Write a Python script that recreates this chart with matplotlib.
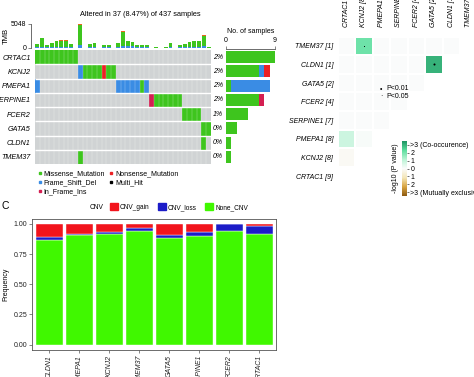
import numpy as np
import matplotlib
matplotlib.use("Agg")
import matplotlib.pyplot as plt
import matplotlib.patches as mpatches
from matplotlib.lines import Line2D
from matplotlib.colors import ListedColormap, LinearSegmentedColormap, Normalize
from matplotlib.cm import ScalarMappable

plt.rcParams.update({
    "font.family": "Liberation Sans",
    "font.size": 5,
    "axes.linewidth": 0.6,
})

W, H = 474, 377

# ── Panel A data: oncoplot ─────────────────────────────────────────────────────
genes = ["CRTAC1", "KCNJ2", "PMEPA1", "SERPINE1", "FCER2", "GATA5", "CLDN1", "TMEM37"]
n_samples_total = 437
n_altered = 37
# one char per altered sample: M missense, F frame shift del, N nonsense, I in-frame ins
onco_calls = [
    "MMMMMMMMM." ".........." ".........." ".......",   # CRTAC1
    ".........F" "MMMMNMM..." ".........." ".......",   # KCNJ2
    "F........." ".......FFF" "FFMF......" ".......",   # PMEPA1
    ".........." ".........." "....IMMMMM" "M......",   # SERPINE1
    ".........." ".........." ".........." ".MMMM..",   # FCER2
    ".........." ".........." ".........." ".....MM",   # GATA5
    ".........." ".........." ".........." ".....M.",   # CLDN1
    ".........M" ".........." ".........." ".......",   # TMEM37
]
tmb_frameshift = [300, 300, 250, 300, 300, 300, 300, 250, 30, 700, 30, 250, 300, 30, 200, 200, 30, 250, 400,
                  350, 350, 250, 250, 250, 30, 80, 20, 50, 300, 50, 200, 250, 300, 300, 300, 500, 80]
tmb_missense = [500, 1800, 300, 800, 1100, 1150, 1150, 650, 30, 4100, 50, 650, 700, 50, 450, 350, 30, 750, 2950,
                1050, 900, 350, 300, 350, 30, 170, 20, 100, 800, 50, 400, 650, 1000, 1100, 1100, 2080, 120]
tmb_nonsense = [0, 0, 0, 0, 0, 150, 150, 0, 0, 250, 0, 0, 0, 0, 0, 0, 0, 0, 150,
                0, 0, 0, 0, 0, 0, 0, 0, 0, 0, 0, 0, 0, 0, 0, 0, 120, 0]
tmb_max = 5048

# ── Panel B data: somatic interactions ────────────────────────────────────────
pair_rows = ["TMEM37", "CLDN1", "GATA5", "FCER2", "SERPINE1", "PMEPA1", "KCNJ2", "CRTAC1"]
pair_cols = ["CRTAC1", "KCNJ2", "PMEPA1", "SERPINE1", "FCER2", "GATA5", "CLDN1", "TMEM37"]
# signed -log10(P), positive = co-occurrence
logp_rows = [
    [0.02, 1.8, 0.02, 0.02, 0.02, 0.02, 0.02],
    [0.02, 0.02, 0.02, 0.02, 0.02, 2.6],
    [0.02, 0.02, 0.02, 0.02, 0.02],
    [0.02, 0.02, 0.02, 0.02],
    [0.02, 0.02, 0.02],
    [0.7, 0.05],
    [-0.1],
    [],
]
sig_pairs = [("TMEM37", "KCNJ2", 0.05), ("CLDN1", "GATA5", 0.01)]

# ── Panel C data: CNV frequency ───────────────────────────────────────────────
cnv_genes = ["CLDN1", "PMEPA1", "KCNJ2", "TMEM37", "GATA5", "SERPINE1", "FCER2", "CRTAC1"]
none_cnv = [0.870, 0.905, 0.916, 0.940, 0.886, 0.903, 0.941, 0.919]
cnv_loss = [0.017, 0.014, 0.019, 0.028, 0.022, 0.030, 0.054, 0.066]
cnv_gain = [0.113, 0.081, 0.065, 0.032, 0.092, 0.067, 0.005, 0.015]

COL = {
    "gray": "#D0D3D4",
    "M": "#3EC51E",
    "F": "#3A8CE4",
    "N": "#EC2024",
    "I": "#D41F52",
    "gain": "#F2141C",
    "loss": "#1C1CC8",
    "none": "#40F800",
}


def rect(x0, y0, x1, y1):
    return [x0 / W, 1 - y1 / H, (x1 - x0) / W, (y1 - y0) / H]


fig = plt.figure(figsize=(W / 100, H / 100), dpi=100)

# ── A: main grid ──────────────────────────────────────────────────────────────
codes = {".": 0, "M": 1, "F": 2, "N": 3, "I": 4}
mat = np.array([[codes[c] for c in row] for row in onco_calls])
ax = fig.add_axes(rect(35, 50, 211, 164))
cmap_onco = ListedColormap([COL["gray"], COL["M"], COL["F"], COL["N"], COL["I"]])
ax.pcolormesh(np.arange(n_altered + 1) - 0.5, np.arange(len(genes) + 1) - 0.5, mat,
              cmap=cmap_onco, vmin=-0.5, vmax=4.5, linewidth=0)
ax.vlines(np.arange(1, n_altered) - 0.5, -0.5, len(genes) - 0.5, color="white", lw=0.2, alpha=0.8)
ax.hlines(np.arange(1, len(genes)) - 0.5, -0.5, n_altered - 0.5, color="white", lw=1.0)
ax.set_xlim(-0.5, n_altered - 0.5)
ax.set_ylim(len(genes) - 0.5, -0.5)
ax.set_xticks([])
ax.set_yticks(range(len(genes)))
ax.set_yticklabels(genes, style="italic", fontsize=5.2)
ax.tick_params(axis="y", length=0, pad=3)
for s in ax.spines.values():
    s.set_visible(False)

# TMB bars
axt = fig.add_axes(rect(35, 24, 211, 48))
xs = np.arange(n_altered)
axt.bar(xs, tmb_frameshift, width=0.8, color=COL["F"])
axt.bar(xs, tmb_missense, width=0.8, bottom=tmb_frameshift, color=COL["M"])
axt.bar(xs, tmb_nonsense, width=0.8, bottom=np.add(tmb_frameshift, tmb_missense), color="#E8641E")
axt.set_xlim(-0.5, n_altered - 0.5)
axt.set_ylim(0, tmb_max)
axt.set_xticks([])
axt.set_yticks([0, tmb_max])
axt.set_yticklabels(["0", str(tmb_max)])
for k in ["top", "right", "bottom"]:
    axt.spines[k].set_visible(False)
axt.spines["left"].set_position(("outward", 3))
axt.spines["left"].set_color("#555555")
axt.tick_params(axis="y", length=2, width=0.5, color="#555555", pad=1)
axt.set_ylabel("TMB", fontsize=5.5, labelpad=1)
fig.text(140 / W, 1 - 14 / H, f"Altered in {n_altered} ({n_altered / n_samples_total:.2%}) of {n_samples_total} samples",
         ha="center", va="center", fontsize=5.3)

# sample-count bars
axc = fig.add_axes(rect(226, 50, 275, 164))
left = np.zeros(len(genes))
for code in ["M", "F", "N", "I"]:
    vals = np.array([row.count(code) for row in onco_calls])
    axc.barh(range(len(genes)), vals, left=left, height=0.85, color=COL[code])
    left += vals
axc.set_ylim(len(genes) - 0.5, -0.5)
axc.set_xlim(0, 9)
axc.set_yticks([])
axc.xaxis.tick_top()
axc.set_xticks([0, 9])
axc.xaxis.set_label_position("top")
axc.set_xlabel("No. of samples", fontsize=5, labelpad=3)
axc.tick_params(axis="x", length=2, width=0.5, pad=1, color="#555555")
for k in ["bottom", "left", "right"]:
    axc.spines[k].set_visible(False)
axc.spines["top"].set_position(("outward", 1))
axc.spines["top"].set_color("#555555")
for i, total in enumerate(left):
    axc.text(-1.47, i, f"{total / n_samples_total:.0%}", ha="center", va="center",
             style="italic", fontsize=5)

handles = [Line2D([], [], marker="s", ls="", color=COL["M"], markersize=1.8),
           Line2D([], [], marker="s", ls="", color=COL["F"], markersize=1.8),
           Line2D([], [], marker="s", ls="", color=COL["I"], markersize=1.8),
           Line2D([], [], marker="s", ls="", color=COL["N"], markersize=1.8),
           Line2D([], [], marker="s", ls="", color="black", markersize=1.8)]
labels = ["Missense_Mutation", "Frame_Shift_Del", "In_Frame_Ins", "Nonsense_Mutation", "Multi_Hit"]
fig.legend(handles, labels, ncol=2, loc="upper left", bbox_to_anchor=(34 / W, 1 - 167 / H),
           frameon=False, fontsize=5, handlelength=0.6, handletextpad=0.3,
           labelspacing=0.25, columnspacing=0.5, borderpad=0)

# ── B: interaction heatmap ────────────────────────────────────────────────────
hm = np.full((len(pair_rows), len(pair_cols)), np.nan)
for r, vals in enumerate(logp_rows):
    hm[r, :len(vals)] = vals
cmap_b = LinearSegmentedColormap.from_list(
    "coocc", ["#8C5A12", "#D8A440", "#F4E6B8", "#FBFBFB", "#B8F3D4", "#5CDE9E", "#1E9462"])
cmap_b.set_bad("none")
norm_b = Normalize(-3, 3)
axh = fig.add_axes(rect(337.5, 36.5, 477.5, 185.3))
axh.pcolormesh(np.arange(len(pair_cols) + 1), np.arange(len(pair_rows) + 1),
               np.ma.masked_invalid(hm), cmap=cmap_b, norm=norm_b,
               edgecolors="white", linewidth=0.2)
axh.set_xlim(0, len(pair_cols))
axh.set_ylim(len(pair_rows), 0)
counts = {g: sum(c != "." for c in row) for g, row in zip(genes, onco_calls)}
axh.set_yticks(np.arange(len(pair_rows)) + 0.5)
axh.set_yticklabels([f"{g} [{counts[g]}]" for g in pair_rows], style="italic", fontsize=5)
axh.xaxis.tick_top()
axh.set_xticks(np.arange(len(pair_cols)) + 0.5)
axh.set_xticklabels([f"{g} [{counts[g]}]" for g in pair_cols], style="italic",
                    fontsize=5, rotation=90)
axh.tick_params(length=0, pad=3)
axh.tick_params(axis="x", pad=7)
for s in axh.spines.values():
    s.set_visible(False)
for rg, cg, p in sig_pairs:
    r, c = pair_rows.index(rg), pair_cols.index(cg)
    axh.scatter(c + 0.5, r + 0.5, s=2.2 if p <= 0.01 else 0.5, color="black", lw=0)

fig.text(381 / W, 1 - 89 / H, "\u2022", ha="center", va="center", fontsize=5)
fig.text(386 / W, 1 - 89 / H, "P<0.01", ha="left", va="center", fontsize=5)
fig.text(381 / W, 1 - 96.5 / H, "\u00b7", ha="center", va="center", fontsize=5)
fig.text(386 / W, 1 - 96.5 / H, "P<0.05", ha="left", va="center", fontsize=5)

cax = fig.add_axes(rect(402, 141, 407, 196))
cb = fig.colorbar(ScalarMappable(norm=Normalize(-3.45, 3.45), cmap=cmap_b), cax=cax,
                  ticks=[-3, -2, -1, 0, 1, 2, 3])
cb.ax.set_yticklabels([">3 (Mutually exclusive)", "2", "1", "0", "1", "2", ">3 (Co-occurence)"])
cb.outline.set_visible(False)
cax.tick_params(length=1.5, width=0.4, labelsize=5, pad=1)
cax.set_ylabel("-log10 (P value)", fontsize=5, labelpad=2)
cax.yaxis.set_label_position("left")

# ── C: CNV frequency ──────────────────────────────────────────────────────────
fig.text(2 / W, 1 - 206 / H, "C", fontsize=7.5, ha="left", va="center")
axb = fig.add_axes(rect(32, 219, 276, 350))
xb = np.arange(len(cnv_genes))
axb.bar(xb, none_cnv, width=0.9, color=COL["none"], edgecolor="white", linewidth=0.3)
axb.bar(xb, cnv_loss, width=0.9, bottom=none_cnv, color=COL["loss"], edgecolor="white", linewidth=0.3)
axb.bar(xb, cnv_gain, width=0.9, bottom=np.add(none_cnv, cnv_loss), color=COL["gain"],
        edgecolor="white", linewidth=0.3)
axb.set_xlim(-0.577, len(cnv_genes) - 0.443)
axb.set_ylim(-0.044, 1.04)
axb.set_yticks([0, 0.25, 0.5, 0.75, 1.0])
axb.set_yticklabels(["0.00", "0.25", "0.50", "0.75", "1.00"])
axb.set_xticks(xb)
axb.set_xticklabels(cnv_genes, rotation=90, style="italic", fontsize=5)
axb.set_ylabel("Frequency", fontsize=5, labelpad=3)
for s in axb.spines.values():
    s.set_color("#555555")
axb.tick_params(length=2, width=0.5, color="#555555", labelsize=5, pad=1.5, labelcolor="#222222")

fig.text(90 / W, 1 - 207 / H, "CNV", fontsize=4.8, ha="left", va="center")
cnv_handles = [mpatches.Patch(color=COL["gain"]), mpatches.Patch(color=COL["loss"]),
               mpatches.Patch(color=COL["none"])]
fig.legend(cnv_handles, ["CNV_gain", "CNV_loss", "None_CNV"], ncol=3, loc="center left",
           bbox_to_anchor=(107 / W, 1 - 207 / H), frameon=False, fontsize=4.7,
           handlelength=1.2, handleheight=1.2, handletextpad=0.3, columnspacing=1.3, borderpad=0)

fig.savefig("out.png", dpi=100)
